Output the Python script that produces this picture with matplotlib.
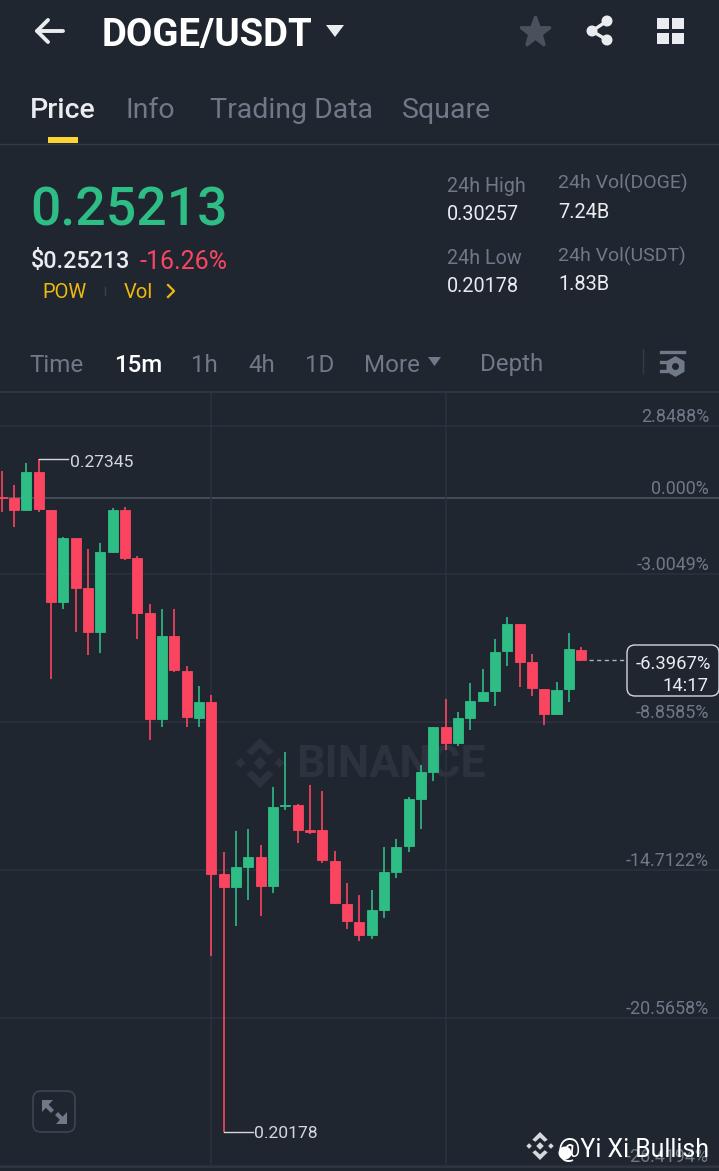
import matplotlib
matplotlib.use('Agg')
import matplotlib.pyplot as plt
from matplotlib.patches import Polygon, Rectangle, FancyBboxPatch, Circle

plt.rcParams['font.family'] = ['Roboto', 'DejaVu Sans']

# Candles, in percent against the day's open.
opens = [0.02, 0.01, -0.47, 1.02, -0.47, -4.10, -1.59, -3.56, -5.29, -2.14, -0.47, -2.38,
         -4.55, -8.75, -5.47, -6.83, -8.68, -8.08, -14.88, -15.38, -14.60, -14.21, -15.34, -12.19,
         -12.15, -13.14, -13.14, -14.34, -16.04, -16.75, -17.29, -16.28, -14.80, -13.76, -11.89, -10.82,
         -9.05, -9.69, -8.69, -8.01, -7.64, -6.06, -4.98, -6.50, -7.54, -8.54, -7.56, -6.00]
closes = [-0.02, -0.47, 1.02, -0.45, -4.10, -1.59, -3.56, -5.29, -2.14, -0.47, -2.38, -4.54,
          -8.73, -5.47, -6.81, -8.67, -8.08, -14.88, -15.38, -14.60, -14.21, -15.34, -12.21, -12.14,
          -13.12, -13.19, -14.33, -16.03, -16.74, -17.29, -16.29, -14.80, -13.79, -11.91, -10.83, -9.04,
          -9.69, -8.70, -8.03, -7.66, -6.08, -4.97, -6.48, -7.52, -8.54, -7.58, -5.98, -6.40]
highs = [1.07, 0.51, 1.40, 1.53, -0.47, -1.55, -1.59, -2.00, -1.79, -0.40, -0.37, -2.31,
         -4.18, -4.39, -4.40, -6.65, -7.43, -7.80, -14.01, -13.15, -13.08, -13.72, -11.42, -10.05,
         -12.10, -11.36, -11.59, -13.97, -15.22, -15.71, -15.51, -13.79, -13.49, -11.82, -10.57, -9.04,
         -7.95, -8.45, -7.33, -6.77, -5.59, -4.72, -4.98, -6.18, -7.54, -7.28, -5.35, -5.89]
lows = [-0.55, -1.13, -0.47, -0.57, -7.17, -4.40, -5.30, -6.22, -6.12, -2.19, -2.44, -5.56,
        -9.58, -9.04, -6.87, -9.04, -9.04, -18.11, -25.07, -16.91, -15.88, -16.52, -15.61, -12.35,
        -13.65, -13.27, -14.44, -16.07, -17.04, -17.50, -17.43, -16.59, -15.01, -13.98, -13.09, -11.18,
        -9.96, -9.82, -9.16, -8.04, -8.24, -6.63, -7.46, -7.84, -8.96, -8.57, -8.05, -6.43]

grid_levels = [2.8488, 0.0, -3.0049, -8.8585, -14.7122, -20.5658, -26.4194]
grid_labels = ['2.8488%', '0.000%', '-3.0049%', '-8.8585%', '-14.7122%', '-20.5658%', '-26.4194%']
last_pct = -6.3967
tabs = ['Price', 'Info', 'Trading Data', 'Square']
tab_x = [30, 126, 210, 402]
periods = ['Time', '15m', '1h', '4h', '1D', 'More', 'Depth']
period_x = [29, 114, 191, 248, 305, 364, 480]

BG = '#1f2630'
GREEN = '#2ebd85'
RED = '#fb4560'
GREY = '#6f7988'
WHITE = '#eaecef'
YELLOW = '#f0b90b'
LINE = '#2c333e'
W, H = 719, 1171

fig = plt.figure(figsize=(W / 100, H / 100), dpi=100, facecolor=BG)


def pixel_axes(zorder):
    a = fig.add_axes([0, 0, 1, 1], zorder=zorder)
    a.set_xlim(0, W)
    a.set_ylim(H, 0)
    a.axis('off')
    return a


def logo(a, cx, cy, s, color):
    # small diamonds
    for dx, dy, r in [(0, 0, .27), (-.78, 0, .2), (.78, 0, .2)]:
        a.add_patch(Polygon([(cx + dx * s, cy - r * s), (cx + (dx + r) * s, cy),
                             (cx + dx * s, cy + r * s), (cx + (dx - r) * s, cy)], color=color, lw=0))
    # upper and lower chevrons
    for sign in (-1, 1):
        a.add_patch(Polygon([(cx, cy + sign * s), (cx + .55 * s, cy + sign * .45 * s),
                             (cx + .33 * s, cy + sign * .3 * s), (cx, cy + sign * .6 * s),
                             (cx - .33 * s, cy + sign * .3 * s), (cx - .55 * s, cy + sign * .45 * s)],
                            color=color, lw=0))


back = pixel_axes(0)
logo(back, 260, 763, 25, '#2c333f')
back.text(296, 765, 'BINANCE', color='#2c333f', fontsize=32.2, fontweight='bold', va='center')

# Chart pane: index 0 sits at 1.7 px, 12.33 px per candle, 25.29 px per percent.
ax = fig.add_axes([0, (H - 1166) / H, 1, (1166 - 392) / H], zorder=1)
ax.patch.set_alpha(0)
ax.set_xlim(-1.7 / 12.33, (W - 1.7) / 12.33)
ax.set_ylim(-26.41, 4.19)
ax.axis('off')

for level, label in zip(grid_levels, grid_labels):
    color = '#4b515c' if level == 0 else LINE
    ax.axhline(level, color=color, lw=1.3 if level == 0 else 1.1, zorder=1)
    ax.annotate(label, (709 / W, level), xycoords=ax.get_yaxis_transform(), xytext=(0, .2),
                textcoords='offset points', ha='right', va='bottom', color=GREY, fontsize=12.9,
                annotation_clip=False)
for idx in (17, 36):
    ax.axvline(idx, color=LINE, lw=1.1, zorder=1)

for i, (o, c, hi, lo) in enumerate(zip(opens, closes, highs, lows)):
    color = GREEN if c >= o else RED
    ax.vlines(i, lo, hi, color=color, lw=1.2, zorder=2)
    ax.add_patch(Rectangle((i - .41, min(o, c)), .82, max(abs(c - o), .05), facecolor=color,
                           edgecolor=color, lw=.6, zorder=3))

# High / low callouts
top_i = highs.index(max(highs))
low_i = lows.index(min(lows))
ax.plot([top_i, top_i + 2.4], [max(highs)] * 2, color='#d5d8dc', lw=1, zorder=3)
ax.annotate('0.27345', (top_i + 2.5, max(highs)), xytext=(0, -2), textcoords='offset points',
            color='#d5d8dc', fontsize=12.6, va='center')
ax.plot([low_i, low_i + 2.4], [min(lows)] * 2, color='#d5d8dc', lw=1, zorder=3)
ax.annotate('0.20178', (low_i + 2.5, min(lows)), xytext=(0, -1), textcoords='offset points',
            color='#d5d8dc', fontsize=12.6, va='center')
ax.plot([len(closes) - .4, 50.6], [last_pct] * 2, color='#aab0b8', lw=1, dashes=(3, 2.5), zorder=3)

ui = pixel_axes(2)

# Header
ui.plot([37, 63], [31, 31], color=WHITE, lw=2.8, solid_capstyle='round')
ui.plot([48, 37, 48], [20, 31, 42], color=WHITE, lw=2.8, solid_capstyle='round', solid_joinstyle='round')
ui.text(102, 35, 'DOGE/USDT', color='white', fontsize=27.6, fontweight='bold', va='center')
ui.add_patch(Polygon([(326, 25), (344, 25), (335, 37)], color=WHITE, lw=0))
ui.plot(535, 32, marker='*', ms=23, color='#4a505c', mec='#4a505c', mew=2, mfc='#4a505c')
for x0, y0 in [(657, 18), (672, 18), (657, 33), (672, 33)]:
    ui.add_patch(Rectangle((x0, y0), 12, 11, color=WHITE, lw=0))
ui.plot([607, 592, 607], [21, 31, 40], color=WHITE, lw=2.4)
for cx, cy in [(607, 21), (592, 31), (607, 40)]:
    ui.add_patch(Circle((cx, cy), 5.5, color=WHITE, lw=0))

for name, x in zip(tabs, tab_x):
    active = name == 'Price'
    ui.text(x, 110, name, color=WHITE if active else GREY, fontsize=20.5, va='center',
            fontweight='medium' if active else 'normal')
ui.add_patch(Rectangle((48, 137), 30, 6, color='#fcd535', lw=0))
ui.plot([0, W], [143.5, 143.5], color='#343b46', lw=1)

# Price block
ui.text(30, 211, '0.25213', color=GREEN, fontsize=38.5, fontweight='medium', va='center')
ui.text(31, 262, '$0.25213', color=WHITE, fontsize=16.8, fontweight='medium', va='center')
ui.text(140, 262, '-16.26%', color=RED, fontsize=18, va='center')
ui.text(42, 293, 'POW', color=YELLOW, fontsize=14.5, va='center')
ui.plot([105, 105], [287, 295], color='#3a414c', lw=1)
ui.text(124, 293, 'Vol', color=YELLOW, fontsize=14.5, va='center')
ui.plot([168, 174, 168], [285, 291, 297], color=YELLOW, lw=1.6)

ui.text(447, 186, '24h High', color=GREY, fontsize=14.2, va='center')
ui.text(447, 215, '0.30257', color=WHITE, fontsize=14.3, va='center')
ui.text(447, 258, '24h Low', color=GREY, fontsize=14.2, va='center')
ui.text(447, 286, '0.20178', color=WHITE, fontsize=14.3, va='center')
ui.text(558, 183, '24h Vol(DOGE)', color=GREY, fontsize=14, va='center')
ui.text(558, 212, '7.24B', color=WHITE, fontsize=14.4, va='center')
ui.text(558, 256, '24h Vol(USDT)', color=GREY, fontsize=14, va='center')
ui.text(558, 284, '1.83B', color=WHITE, fontsize=14.4, va='center')

# Period bar
for name, x in zip(periods, period_x):
    active = name == '15m'
    ui.text(x, 365, name, color='white' if active else GREY, fontsize=17.4, va='center',
            fontweight='medium' if active else 'normal')
ui.add_patch(Polygon([(428, 357), (441, 357), (434.5, 366)], color=GREY, lw=0))
ui.plot([642.5, 642.5], [349, 373], color='#343b46', lw=1)
ui.plot([661, 684], [352, 352], color=GREY, lw=2.4)
ui.plot([661, 668], [362, 362], color=GREY, lw=2.4)
ui.plot([661, 666], [371, 371], color=GREY, lw=2.4)
ui.plot(675, 366, marker='h', ms=15, color=GREY, mew=0)
ui.plot(675, 366, marker='o', ms=5, color=BG, mew=0)
ui.plot([0, W], [392, 392], color='#2f3641', lw=1.4)
ui.plot([0, W], [1166.5, 1166.5], color='#2f3641', lw=1.4)

# Last price box
ui.add_patch(FancyBboxPatch((631, 649), 84, 43, boxstyle='round,pad=4,rounding_size=8',
                            facecolor=BG, edgecolor='#d5d8dc', lw=1))
ui.text(711, 664, '-6.3967%', color=WHITE, fontsize=13.2, ha='right', va='center')
ui.text(709, 686, '14:17', color=WHITE, fontsize=13.2, ha='right', va='center')

# Expand button
ui.add_patch(FancyBboxPatch((37, 1095), 34, 33, boxstyle='round,pad=4,rounding_size=8',
                            facecolor=BG, edgecolor='#3a414c', lw=1.4))
ui.plot([46, 51], [1105, 1110], color=GREY, lw=3)
ui.plot([58, 63], [1115, 1120], color=GREY, lw=3)
ui.add_patch(Polygon([(42, 1100), (53, 1100), (42, 1112)], color=GREY, lw=0))
ui.add_patch(Polygon([(67, 1124), (56, 1124), (67, 1112)], color=GREY, lw=0))

# Repost credit
logo(ui, 540, 1146, 14, '#d5d8dc')
ui.text(558, 1150, '@Yi Xi Bullish', color='white', fontsize=17.9, va='center')
ui.add_patch(Circle((565, 1153), 6.5, color='white', lw=0))

fig.savefig('out.png', dpi=100, facecolor=BG)
